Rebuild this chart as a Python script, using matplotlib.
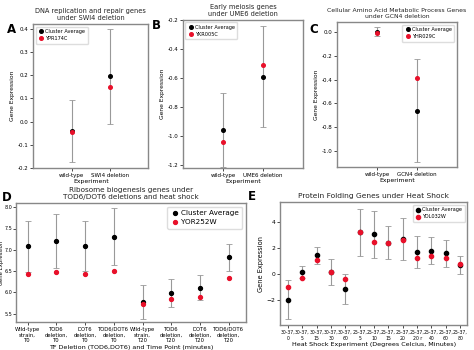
import numpy as np
import matplotlib
matplotlib.use("Agg")
import matplotlib.pyplot as plt

# Panel A - SWI4
a_labels = ["wild-type", "SWI4 deletion"]
a_avg = [-0.04, 0.195]
a_err = [0.135, 0.205]
a_gene = [-0.045, 0.15]

# Panel B - UME6
b_labels = ["wild-type", "UME6 deletion"]
b_avg = [-0.96, -0.59]
b_err = [0.255, 0.35]
b_gene = [-1.04, -0.51]

# Panel C - GCN4
c_labels = ["wild-type", "GCN4 deletion"]
c_avg = [0.0, -0.66]
c_err = [0.04, 0.43]
c_gene = [-0.01, -0.39]

# Panel D - TOD6/DOT6
d_labels = ["Wild-type\nstrain,\nT0", "TOD6\ndeletion,\nT0", "DOT6\ndeletion,\nT0",
            "TOD6/DOT6\ndeletion,\nT0", "Wild-type\nstrain,\nT20", "TOD6\ndeletion,\nT20",
            "DOT6\ndeletion,\nT20", "TOD6/DOT6\ndeletion,\nT20"]
d_avg = [7.08, 7.2, 7.09, 7.31, 5.78, 5.98, 6.11, 6.82]
d_err = [0.6, 0.63, 0.59, 0.68, 0.4, 0.32, 0.29, 0.31]
d_gene = [6.43, 6.48, 6.43, 6.5, 5.73, 5.83, 5.9, 6.34]

# Panel E - heat shock
e_labels = ["30-37,\n0", "30-37,\n5", "30-37,\n15", "30-37,\n30", "30-37,\n60",
            "25-37,\n5", "25-37,\n10", "25-37,\n15", "25-37,\n20", "25-37,\n20 r",
            "25-37,\n40", "25-37,\n60", "25-37,\n80"]
e_avg = [-1.95, 0.15, 1.45, 0.15, -1.15, 3.2, 3.05, 2.4, 2.7, 1.7, 1.8, 1.6, 0.7]
e_err = [1.5, 0.45, 0.65, 1.0, 1.15, 1.8, 1.78, 1.25, 1.6, 1.2, 1.02, 1.02, 0.68]
e_gene = [-0.95, -0.3, 1.05, 0.15, -0.35, 3.2, 2.5, 2.4, 2.6, 1.2, 1.4, 1.2, 0.8]

fig = plt.figure(figsize=(4.74, 3.5), dpi=100)


def panel(rect, labels, avg, err, gene, gene_name, title, xlabel,
          ylim, xlim, yticks, loc, tfs=4.8, lfs=3.6, tick_fs=4.0, ms=2.6):
    ax = fig.add_axes(rect)
    x = np.arange(len(labels))
    ax.errorbar(x, avg, yerr=err, fmt="none", ecolor="#999999", elinewidth=0.8,
                capsize=2.5, capthick=0.6)
    ax.plot(x, avg, "o", color="black", ms=ms, label="Cluster Average")
    ax.plot(x, gene, "o", color="#e8102a", ms=ms, label=gene_name)
    ax.set_xticks(x)
    ax.set_xticklabels(labels, fontsize=tick_fs)
    ax.set_yticks(yticks)
    ax.tick_params(axis="y", labelsize=tick_fs, length=2, width=0.5, pad=1.5)
    ax.tick_params(axis="x", length=2, width=0.5, pad=1.5)
    ax.set_ylim(ylim)
    ax.set_xlim(xlim)
    ax.set_title(title, fontsize=tfs, pad=3, color="#222222")
    ax.set_xlabel(xlabel, fontsize=4.4, labelpad=1)
    ax.set_ylabel("Gene Expression", fontsize=4.3, labelpad=2)
    for s in ax.spines.values():
        s.set_color("#888888")
        s.set_linewidth(1.0)
    ax.legend(loc=loc, fontsize=lfs, handletextpad=0.2, borderpad=0.5,
              handlelength=1.2, labelspacing=0.4, framealpha=1, edgecolor="#dddddd")
    return ax


axA = panel([0.070, 0.52, 0.243, 0.411], a_labels, a_avg, a_err, a_gene, "YPR174C",
            "DNA replication and repair genes\nunder SWI4 deletion", "Experiment",
            (-0.2, 0.42), (-1, 2), np.arange(-0.2, 0.41, 0.1), "upper left")
axA.set_yticklabels(["-0.2", "-0.1", "0.0", "0.1", "0.2", "0.3", "0.4"])
fig.text(0.014, 0.905, "A", fontsize=8.5, fontweight="bold")

axB = panel([0.386, 0.52, 0.253, 0.423], b_labels, b_avg, b_err, b_gene, "YKR005C",
            "Early meiosis genes\nunder UME6 deletion", "Experiment",
            (-1.22, -0.2), (-1, 2), np.arange(-1.2, -0.19, 0.2), "upper left")
axB.set_yticklabels(["-1.2", "-1.0", "-0.8", "-0.6", "-0.4", "-0.2"])
fig.text(0.320, 0.918, "B", fontsize=8.5, fontweight="bold")

axC = panel([0.711, 0.523, 0.253, 0.414], c_labels, c_avg, c_err, c_gene, "YHR029C",
            "Cellular Amino Acid Metabolic Process Genes\nunder GCN4 deletion", "Experiment",
            (-1.13, 0.08), (-1, 2), np.arange(-1.0, 0.01, 0.2), "upper right", tfs=4.4)
axC.set_yticklabels(["-1.0", "-0.8", "-0.6", "-0.4", "-0.2", "0.0"])
fig.text(0.652, 0.905, "C", fontsize=8.5, fontweight="bold")

axD = panel([0.034, 0.080, 0.485, 0.340], d_labels, d_avg, d_err, d_gene, "YOR252W",
            "Ribosome biogenesis genes under\nTOD6/DOT6 deletions and heat shock",
            "TF Deletion (TOD6,DOT6) and Time Point (minutes)",
            (5.3, 8.1), (-0.4, 7.6), np.arange(5.5, 8.01, 0.5), "upper right",
            tfs=5.2, lfs=5.2, tick_fs=3.8, ms=2.8)
axD.yaxis.set_tick_params(labelsize=3.5, pad=1)
axD.set_ylabel("Gene Expression", fontsize=3.8, labelpad=0.5)
axD.set_xlabel("TF Deletion (TOD6,DOT6) and Time Point (minutes)", fontsize=4.6, labelpad=1)
fig.text(0.003, 0.425, "D", fontsize=8.5, fontweight="bold")

axE = panel([0.591, 0.071, 0.395, 0.351], e_labels, e_avg, e_err, e_gene, "YOL032W",
            "Protein Folding Genes under Heat Shock",
            "Heat Shock Experiment (Degrees Celcius, Minutes)",
            (-3.9, 5.5), (-0.55, 12.5), [-2, 0, 2, 4], "upper right",
            tfs=5.4, lfs=3.6, tick_fs=3.3, ms=3.0)
axE.yaxis.set_tick_params(labelsize=4.3)
axE.set_ylabel("Gene Expression", fontsize=4.8, labelpad=2)
axE.set_xlabel("Heat Shock Experiment (Degrees Celcius, Minutes)", fontsize=4.6, labelpad=1)
fig.text(0.522, 0.43, "E", fontsize=8.5, fontweight="bold")

fig.savefig("out.png", dpi=100)
